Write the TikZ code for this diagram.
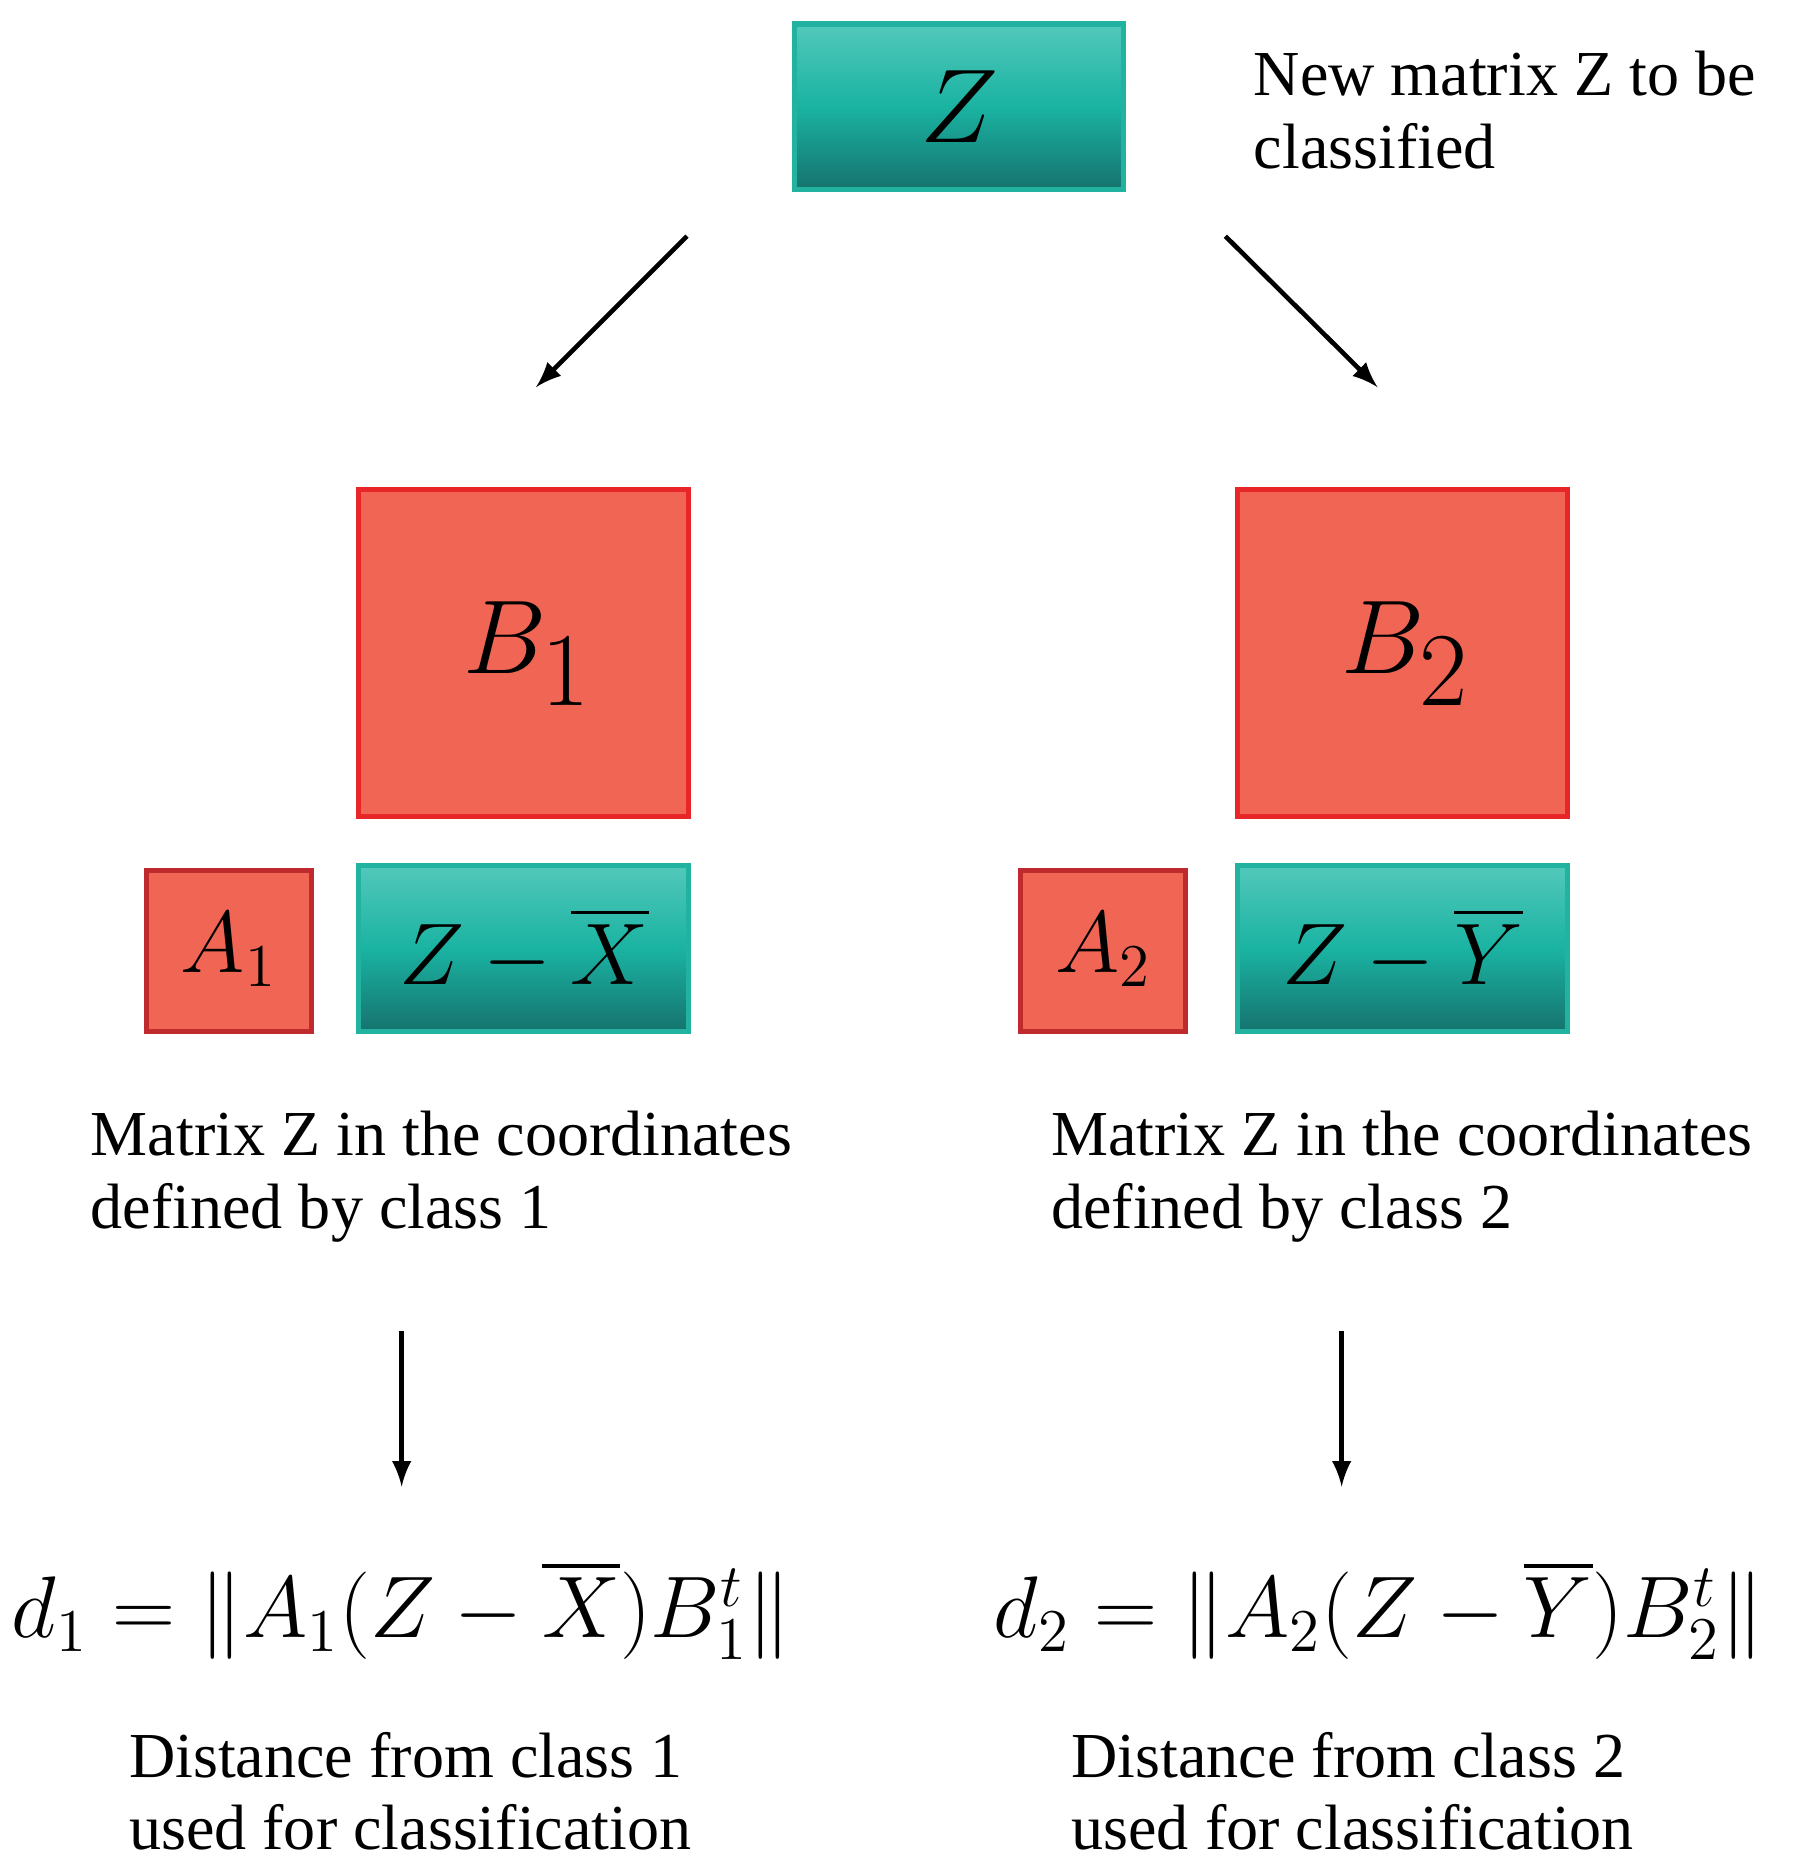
\documentclass[tikz,border=0pt]{standalone}
\usepackage{fontspec}
\setmainfont{Liberation Serif}
\usepackage{amsmath}
\definecolor{tealtop}{HTML}{52C8BA}
\definecolor{tealmid}{HTML}{1AB3A2}
\definecolor{tealbot}{HTML}{16736E}
\definecolor{tealedge}{HTML}{22B3A0}
\definecolor{redfill}{HTML}{F06553}
\definecolor{rededge}{HTML}{E8262A}
\definecolor{rededge2}{HTML}{BF2A2E}
\begin{document}
\begin{tikzpicture}[x=0.01cm,y=-0.01cm,
  tealbox/.style={draw=tealedge,line width=1.2pt,top color=tealtop,bottom color=tealbot,middle color=tealmid},
  redbox/.style={draw=rededge,line width=1.2pt,fill=redfill},
  smallred/.style={draw=rededge2,line width=1.2pt,fill=redfill},
  txt/.style={align=left,anchor=north west,inner sep=0,font=\fontsize{15.2}{17.2}\selectfont},
  arr/.style={-latex,line width=1.1pt}]
\useasboundingbox (0,0) rectangle (1500,1558);
\path[tealbox] (663,20) rectangle (937,158);
\node (Z) at (800,89) {\fontsize{28}{30}\selectfont $Z$};
\path[redbox] (299,408) rectangle (574,681);
\node (B1) at (440,545) {\fontsize{44}{46}\selectfont $B_1$};
\path[redbox] (1032,408) rectangle (1307,681);
\node (B2) at (1172,545) {\fontsize{44}{46}\selectfont $B_2$};
\path[smallred] (122,726) rectangle (260,860);
\node (A1) at (191,792) {\fontsize{21}{23}\selectfont $A_1$};
\path[tealbox] (299,722) rectangle (574,860);
\node (ZX) at (437,792) {\fontsize{20}{22}\selectfont $Z-\overline{X}$};
\path[smallred] (851,726) rectangle (989,860);
\node (A2) at (920,792) {\fontsize{21}{23}\selectfont $A_2$};
\path[tealbox] (1032,722) rectangle (1307,860);
\node (ZY) at (1170,792) {\fontsize{20}{22}\selectfont $Z-\overline{Y}$};
\node[txt] (t0) at (1045,42) {New matrix Z to be\\classified};
\node[txt] (t1) at (75,926) {Matrix Z in the coordinates\\defined by class 1};
\node[txt] (t2) at (876,926) {Matrix Z in the coordinates\\defined by class 2};
\node (d1) at (335,1343) {\fontsize{22}{24}\selectfont $d_1=\|A_1(Z-\overline{X})B_1^t\|$};
\node (d2) at (1150,1343) {\fontsize{22}{24}\selectfont $d_2=\|A_2(Z-\overline{Y})B_2^t\|$};
\node[txt] (t3) at (107,1444) {Distance from class 1\\used for classification};
\node[txt] (t4) at (893,1444) {Distance from class 2\\used for classification};
\coordinate (a1s) at (573,197); \coordinate (a1e) at (447,323);
\coordinate (a2s) at (1022,197); \coordinate (a2e) at (1149,323);
\coordinate (a3s) at (335,1110); \coordinate (a3e) at (335,1240);
\coordinate (a4s) at (1119,1110); \coordinate (a4e) at (1119,1240);
\draw[arr] (a1s) -- (a1e);
\draw[arr] (a2s) -- (a2e);
\draw[arr] (a3s) -- (a3e);
\draw[arr] (a4s) -- (a4e);
\end{tikzpicture}
\end{document}
